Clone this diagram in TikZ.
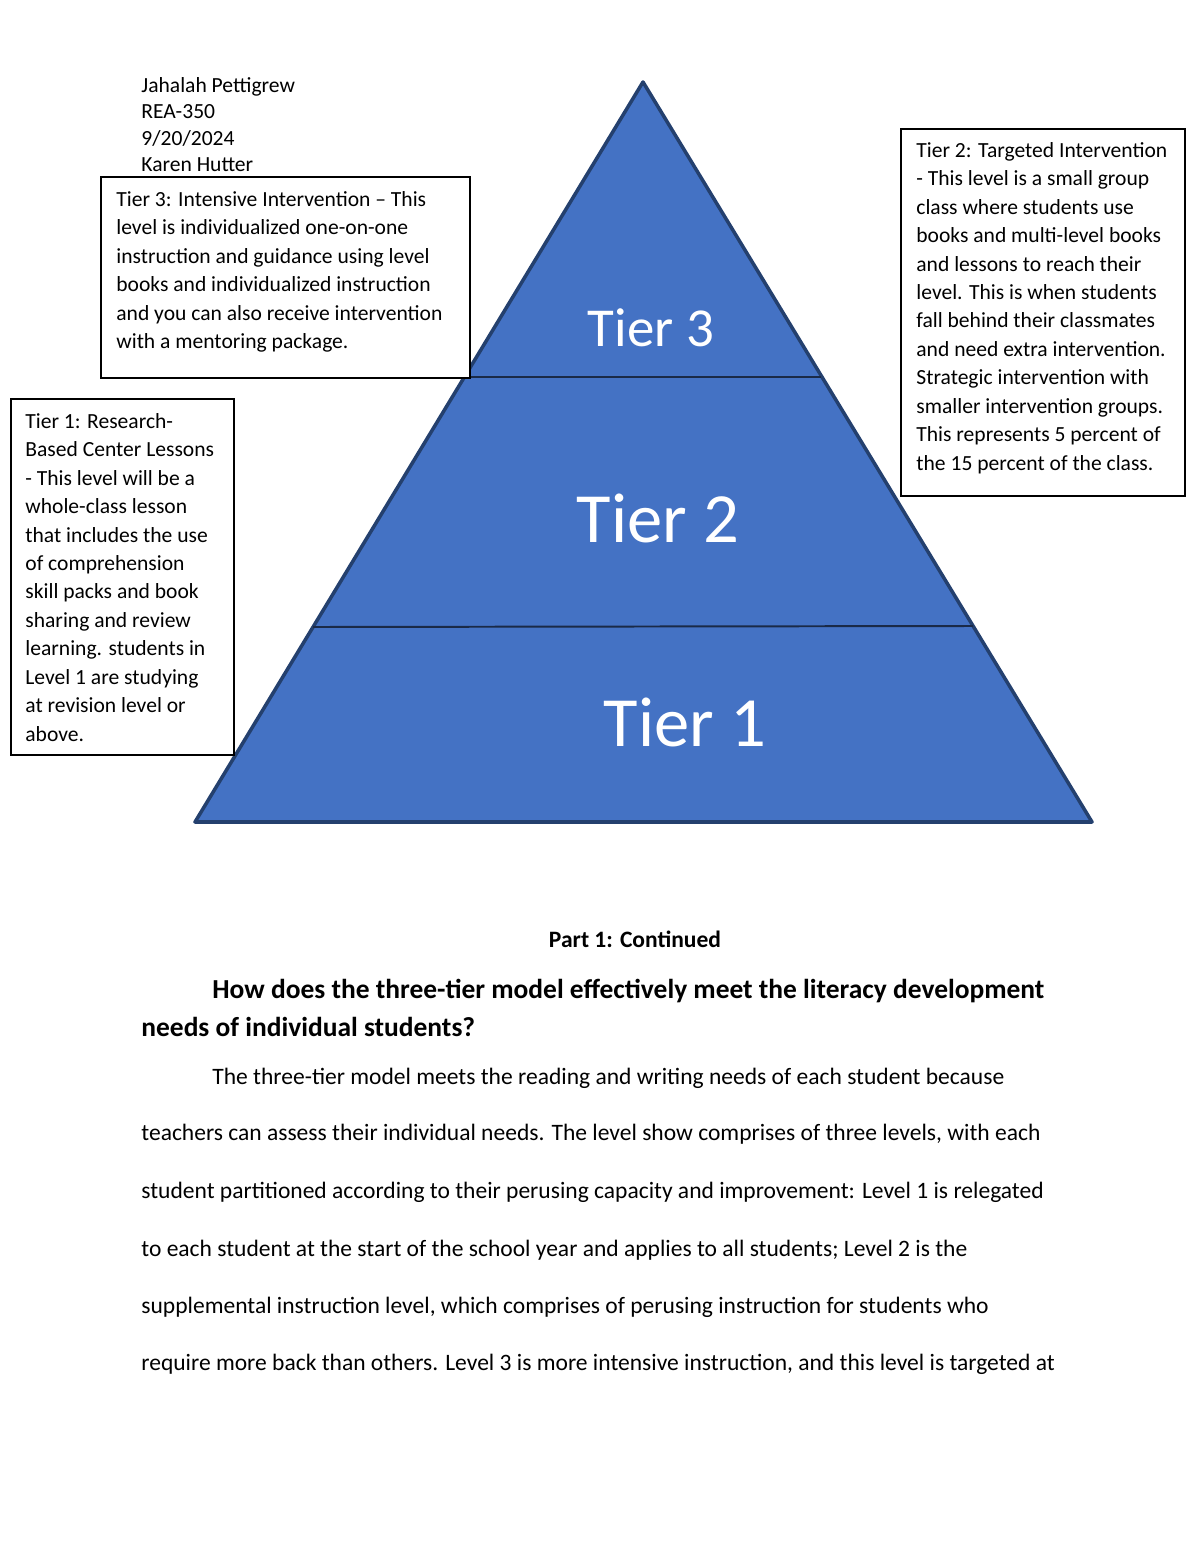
\documentclass[tikz,border=0pt]{standalone}
\usepackage{fontspec}
\setmainfont{Carlito}
\definecolor{pyrfill}{HTML}{4472C4}
\definecolor{pyrline}{HTML}{24406E}
\definecolor{divline}{HTML}{1A2A48}
\begin{document}
\begin{tikzpicture}[x=0.51pt,y=-0.51pt,
  boxtext/.style={anchor=north west,inner sep=0pt,align=left,font=\fontsize{11}{14.5}\selectfont},
  infobox/.style={draw=black,fill=white,line width=0.8pt},
  tierlabel/.style={text=white,inner sep=0pt},
  bodyline/.style={anchor=base west,inner sep=0pt,font=\fontsize{12}{14}\selectfont},
  headline/.style={anchor=base west,inner sep=0pt,font=\fontsize{14}{16}\bfseries\selectfont}]
\useasboundingbox (0,0) rectangle (1200,1553);
% pyramid
\coordinate (apex) at (643,82);
\coordinate (bl) at (195,822);
\coordinate (br) at (1092,822);
\coordinate (d3l) at (465,377);
\coordinate (d3r) at (821,377);
\coordinate (d2l) at (313,627);
\coordinate (d2r) at (973,626);
\draw[fill=pyrfill,draw=pyrline,line width=1.8pt,line join=round] (apex) -- (br) -- (bl) -- cycle;
\draw[divline,line width=1pt] (d3l) -- (d3r);
\draw[divline,line width=1pt] (d2l) -- (d2r);
\node[tierlabel,font=\fontsize{28}{30}\selectfont] (t3) at (651,328) {Tier 3};
\node[tierlabel,font=\fontsize{36}{38}\selectfont] (t2) at (658,518) {Tier 2};
\node[tierlabel,font=\fontsize{36}{38}\selectfont] (t1) at (685,722) {Tier 1};
% header
\node[boxtext,font=\fontsize{11}{13.5}\selectfont] (hdr) at (141,77) {Jahalah Pettigrew\\REA-350\\9/20/2024\\Karen Hutter};
% boxes
\draw[infobox] (101,177) rectangle (470,378);
\node[boxtext] (b3) at (116,191) {Tier 3: Intensive Intervention – This\\level is individualized one-on-one\\instruction and guidance using level\\books and individualized instruction\\and you can also receive intervention\\with a mentoring package.};
\draw[infobox] (901,129) rectangle (1185,496);
\node[boxtext] (b2) at (916,142) {Tier 2: Targeted Intervention\\- This level is a small group\\class where students use\\books and multi-level books\\and lessons to reach their\\level. This is when students\\fall behind their classmates\\and need extra intervention.\\Strategic intervention with\\smaller intervention groups.\\This represents 5 percent of\\the 15 percent of the class.};
\draw[infobox,line width=1.5pt] (11,399) rectangle (234,755);
\node[boxtext] (b1) at (25,413) {Tier 1: Research-\\Based Center Lessons\\- This level will be a\\whole-class lesson\\that includes the use\\of comprehension\\skill packs and book\\sharing and review\\learning. students in\\Level 1 are studying\\at revision level or\\above.};
% text below
\node[anchor=base,inner sep=0pt,font=\fontsize{12}{14}\bfseries\selectfont] (part) at (635,947) {Part 1: Continued};
\node[headline] (q1) at (212,998) {How does the three-tier model effectively meet the literacy development};
\node[headline] (q2) at (141,1036) {needs of individual students?};
\node[bodyline] (l1) at (212,1084) {The three-tier model meets the reading and writing needs of each student because};
\node[bodyline] (l2) at (141,1140) {teachers can assess their individual needs. The level show comprises of three levels, with each};
\node[bodyline] (l3) at (141,1198) {student partitioned according to their perusing capacity and improvement: Level 1 is relegated};
\node[bodyline] (l4) at (141,1256) {to each student at the start of the school year and applies to all students; Level 2 is the};
\node[bodyline] (l5) at (141,1313) {supplemental instruction level, which comprises of perusing instruction for students who};
\node[bodyline] (l6) at (141,1370) {require more back than others. Level 3 is more intensive instruction, and this level is targeted at};
\end{tikzpicture}
\end{document}
